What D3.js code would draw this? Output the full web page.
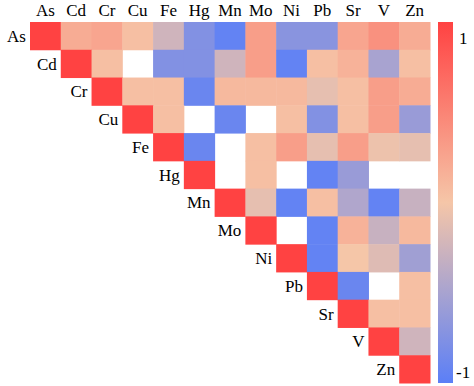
<!DOCTYPE html>
<html>
<head>
<meta charset="utf-8">
<script src="https://cdn.jsdelivr.net/npm/d3@7"></script>
<style>
  body { margin: 0; background: #fff; }
</style>
</head>
<body>
<svg id="corr"></svg>
<script>
var width = 474;
var height = 386;
var font = '"Liberation Serif", "Times New Roman", Times, serif';

var elements = ['As', 'Cd', 'Cr', 'Cu', 'Fe', 'Hg', 'Mn', 'Mo', 'Ni', 'Pb', 'Sr', 'V', 'Zn'];

// upper triangle, each row starts at the diagonal; null = blank cell
var corrRows = [
  [1, 0.2, 0.25, 0.05, -0.25, -0.75, -0.95, 0.3, -0.7, -0.7, 0.25, 0.4, 0.2],
  [1, 0.05, null, -0.75, -0.75, -0.25, 0.3, -0.95, 0.05, 0.15, -0.5, 0.05],
  [1, 0.05, 0.05, -0.9, 0.1, 0.1, 0.1, -0.1, 0.05, 0.3, 0.2],
  [1, 0.05, null, -0.9, null, 0.05, -0.75, 0.05, 0.3, -0.6],
  [1, -0.9, null, 0.05, 0.3, -0.1, 0.3, -0.05, -0.1],
  [1, null, 0.05, null, -0.95, -0.6, null, null],
  [1, -0.1, -0.95, 0.05, -0.45, -0.95, -0.3],
  [1, null, -0.95, 0.15, -0.3, 0.1],
  [1, -0.95, 0.0, -0.15, -0.55],
  [1, -0.9, null, 0.05],
  [1, 0.05, 0.05],
  [1, -0.25],
  [1]
];

var legendTicks = [1, -1];

var cells = [];
corrRows.forEach(function(row, i) {
  row.forEach(function(v, k) {
    cells.push({ row: elements[i], col: elements[i + k], value: v });
  });
});

var svg = d3.select('#corr')
  .attr('width', width)
  .attr('height', height)
  .style('font-family', font);

var xScale = d3.scaleBand()
  .domain(elements)
  .range([30, 430]);

var yScale = d3.scaleBand()
  .domain(elements)
  .range([22, 383]);

var color = d3.scaleLinear()
  .domain([-1, 0, 1])
  .range(['#5b7ff7', '#f5c6a8', '#ff4242']);

svg.selectAll('rect.cell')
  .data(cells.filter(d => d.value !== null))
  .enter()
  .append('rect')
  .classed('cell', true)
  .attr('x', d => xScale(d.col))
  .attr('y', d => yScale(d.row))
  .attr('width', xScale.bandwidth() + 0.5)
  .attr('height', yScale.bandwidth() + 0.5)
  .attr('fill', d => color(d.value));

// column labels
svg.selectAll('text.col')
  .data(elements)
  .enter()
  .append('text')
  .classed('col', true)
  .attr('x', d => xScale(d) + xScale.bandwidth() / 2)
  .attr('y', 16)
  .attr('font-family', font)
  .style('text-anchor', 'middle')
  .style('font-size', '17px')
  .text(d => d);

// row labels, next to the diagonal
svg.selectAll('text.row')
  .data(elements)
  .enter()
  .append('text')
  .classed('row', true)
  .attr('x', d => xScale(d) - 4)
  .attr('y', d => yScale(d) + yScale.bandwidth() / 2)
  .attr('dy', '0.35em')
  .attr('font-family', font)
  .style('text-anchor', 'end')
  .style('font-size', '17px')
  .text(d => d);

// colour bar
var defs = svg.append('defs');
var grad = defs.append('linearGradient')
  .attr('id', 'legendGrad')
  .attr('x1', 0).attr('y1', 1)
  .attr('x2', 0).attr('y2', 0);

d3.range(-1, 1.01, 0.25).forEach(function(v) {
  grad.append('stop')
    .attr('offset', ((v + 1) / 2 * 100) + '%')
    .attr('stop-color', color(v));
});

svg.append('rect')
  .attr('x', 438)
  .attr('y', 22)
  .attr('width', 15)
  .attr('height', 361)
  .attr('fill', 'url(#legendGrad)');

var legendY = d3.scaleLinear()
  .domain([-1, 1])
  .range([372, 38]);

svg.selectAll('text.tick')
  .data(legendTicks)
  .enter()
  .append('text')
  .classed('tick', true)
  .attr('x', d => d < 0 ? 456 : 459)
  .attr('y', d => legendY(d))
  .attr('dy', '0.35em')
  .attr('font-family', font)
  .style('font-size', '17px')
  .text(d => d);
</script>
</body>
</html>
